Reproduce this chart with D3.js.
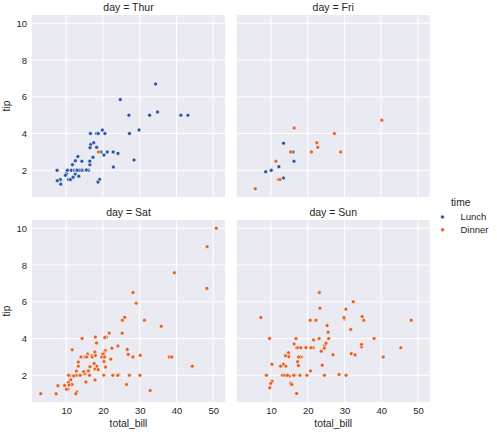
<!DOCTYPE html>
<html>
<head>
<meta charset="utf-8">
<script src="https://cdn.jsdelivr.net/npm/d3@7"></script>
<style>
  body { margin: 0; background: #fff; }
  text { font-family: Arial, "Liberation Sans", sans-serif; fill: #262626; }
</style>
</head>
<body>
<div id="chart"></div>
<script>
// facet layout: day panels in a 2x2 grid, hue = time
const days = ["Thur", "Fri", "Sat", "Sun"];
const times = ["Lunch", "Dinner"];
const xTicks = [10, 20, 30, 40, 50];
const yTicks = [2, 4, 6, 8, 10];

// [total_bill, tip]
const thurLunch = [
  [27.2,4.0],[22.76,3.0],[17.29,2.71],[19.44,3.0],[16.66,3.4],[10.07,1.83],[32.68,5.0],[15.98,2.03],
  [34.83,5.17],[13.03,2.0],[18.28,4.0],[24.71,5.85],[21.16,3.0],[10.65,1.5],[12.43,1.8],[24.08,2.92],
  [11.69,2.31],[13.42,1.68],[14.26,2.5],[15.95,2.0],[12.48,2.52],[29.8,4.2],[8.52,1.48],[14.52,2.0],
  [11.38,2.0],[22.82,2.18],[19.08,1.5],[20.27,2.83],[11.17,1.5],[12.26,2.0],[18.26,3.25],[8.51,1.25],
  [10.33,2.0],[14.15,2.0],[16.0,2.0],[13.16,2.75],[17.47,3.5],[34.3,6.7],[41.19,5.0],[27.05,5.0],
  [16.43,2.3],[8.35,1.5],[18.64,1.36],[11.87,1.63],[9.78,1.73],[7.51,2.0],[19.81,4.19],[28.44,2.56],
  [15.48,2.02],[16.58,4.0],[7.56,1.44],[10.34,2.0],[43.11,5.0],[13.0,2.0],[13.51,2.0],[18.71,4.0],
  [12.74,2.01],[13.0,2.0],[16.4,2.5],[20.53,4.0],[16.47,3.23]
];
const thurDinner = [[18.78,3.0]];

const friLunch = [
  [12.16,2.2],[13.42,3.48],[8.58,1.92],[15.98,3.0],[13.42,1.58],[16.27,2.5],[10.09,2.0]
];
const friDinner = [
  [28.97,3.0],[22.49,3.5],[5.75,1.0],[16.32,4.3],[22.75,3.25],[40.17,4.73],[27.28,4.0],[12.03,1.5],
  [21.01,3.0],[12.46,1.5],[11.35,2.5],[15.38,3.0]
];

const satLunch = [];
const satDinner = [
  [20.65,3.35],[17.92,4.08],[20.29,2.75],[15.77,2.23],[39.42,7.58],[19.82,3.18],[17.81,2.34],[13.37,2.0],
  [12.69,2.0],[21.7,4.3],[19.65,3.0],[9.55,1.45],[18.35,2.5],[15.06,3.0],[20.69,2.45],[17.78,3.27],
  [24.06,3.6],[16.31,2.0],[16.93,3.07],[18.69,2.31],[31.27,5.0],[16.04,2.24],[38.01,3.0],[26.41,1.5],
  [11.24,1.76],[48.27,6.73],[20.29,3.21],[13.81,2.0],[11.02,1.98],[18.29,3.76],[17.59,2.64],[20.08,3.15],
  [16.45,2.47],[3.07,1.0],[20.23,2.01],[15.01,2.09],[12.02,1.97],[17.07,3.0],[26.86,3.14],[25.28,5.0],
  [14.73,2.2],[10.51,1.25],[17.92,3.08],[44.3,2.5],[22.42,3.48],[20.92,4.08],[15.36,1.64],[20.49,4.06],
  [25.21,4.29],[18.24,3.76],[14.31,4.0],[14.0,3.0],[7.25,1.0],[10.59,1.61],[10.63,2.0],[50.81,10.0],
  [15.81,3.16],[26.59,3.41],[38.73,3.0],[24.27,2.03],[12.76,2.23],[30.06,2.0],[25.89,5.16],[48.33,9.0],
  [13.27,2.5],[28.17,6.5],[12.9,1.1],[28.15,3.0],[11.59,1.5],[7.74,1.44],[30.14,3.09],[20.45,3.0],
  [13.28,2.72],[22.12,2.88],[24.01,2.0],[15.69,3.0],[11.61,3.39],[10.77,1.47],[15.53,3.0],[10.07,1.25],
  [12.6,1.0],[32.83,1.17],[35.83,4.67],[29.03,5.92],[27.18,2.0],[22.67,2.0],[17.82,1.75]
];

const sunLunch = [];
const sunDinner = [
  [16.99,1.01],[10.34,1.66],[21.01,3.5],[23.68,3.31],[24.59,3.61],[25.29,4.71],[8.77,2.0],[26.88,3.12],
  [15.04,1.96],[14.78,3.23],[10.27,1.71],[35.26,5.0],[15.42,1.57],[18.43,3.0],[14.83,3.02],[21.58,3.92],
  [10.33,1.67],[16.29,3.71],[16.97,3.5],[17.46,2.54],[13.94,3.06],[9.68,1.32],[30.4,5.6],[18.29,3.0],
  [22.23,5.0],[32.4,6.0],[28.55,2.05],[18.04,3.0],[12.54,2.5],[10.29,2.6],[34.81,5.2],[9.94,1.56],
  [25.56,4.34],[19.49,3.51],[38.07,4.0],[23.95,2.55],[25.71,4.0],[17.31,3.5],[29.93,5.07],[14.07,2.5],
  [13.13,2.0],[17.26,2.74],[24.55,2.0],[19.77,2.0],[29.85,5.14],[48.17,5.0],[25.0,3.75],[13.39,2.61],
  [16.49,2.0],[21.5,3.5],[12.66,2.5],[16.21,2.0],[13.81,2.0],[17.51,3.0],[24.52,3.48],[20.76,2.24],
  [31.71,4.5],[7.25,5.15],[31.85,3.18],[16.82,4.0],[32.9,3.11],[17.89,2.0],[14.48,2.0],[9.6,4.0],
  [34.63,3.55],[34.65,3.68],[23.33,5.65],[45.35,3.5],[23.17,6.5],[40.55,3.0],[20.69,5.0],[20.9,3.5],
  [30.46,2.0],[18.15,3.5],[23.1,4.0],[15.69,1.5]
];

const byDay = {
  Thur: { Lunch: thurLunch, Dinner: thurDinner },
  Fri: { Lunch: friLunch, Dinner: friDinner },
  Sat: { Lunch: satLunch, Dinner: satDinner },
  Sun: { Lunch: sunLunch, Dinner: sunDinner }
};

const width = 497, height = 432;
const panel = { w: 193, h: 182 };
const colX = [32, 236.7];
const rowY = [15, 220];
const dotR = 2.0;
const color = d3.scaleOrdinal().domain(times).range(["#2a56a6", "#e4632a"]);

// shared axes; 5% padding like matplotlib
const all = days.flatMap(d => times.flatMap(t => byDay[d][t]));
const xExt = d3.extent(all, d => d[0]);
const yExt = d3.extent(all, d => d[1]);
const xPad = (xExt[1] - xExt[0]) * 0.05, yPad = (yExt[1] - yExt[0]) * 0.05;
const x = d3.scaleLinear().domain([xExt[0] - xPad, xExt[1] + xPad]).range([0, panel.w]);
const y = d3.scaleLinear().domain([yExt[0] - yPad, yExt[1] + yPad]).range([panel.h, 0]);

const svg = d3.select("#chart").append("svg")
  .attr("width", width).attr("height", height);

days.forEach((day, i) => {
  const col = i % 2, row = Math.floor(i / 2);
  const g = svg.append("g").attr("transform", `translate(${colX[col]},${rowY[row]})`);

  g.append("rect").attr("width", panel.w).attr("height", panel.h).attr("fill", "#eaeaf2");

  // grid
  g.append("g").selectAll("line").data(xTicks).join("line")
    .attr("x1", d => x(d)).attr("x2", d => x(d))
    .attr("y1", 0).attr("y2", panel.h)
    .attr("stroke", "#fff").attr("stroke-width", 1);
  g.append("g").selectAll("line").data(yTicks).join("line")
    .attr("y1", d => y(d)).attr("y2", d => y(d))
    .attr("x1", 0).attr("x2", panel.w)
    .attr("stroke", "#fff").attr("stroke-width", 1);

  // points, lunch then dinner
  times.forEach(t => {
    g.append("g").selectAll("circle").data(byDay[day][t]).join("circle")
      .attr("cx", d => x(d[0])).attr("cy", d => y(d[1]))
      .attr("r", dotR)
      .attr("fill", color(t))
      .attr("stroke", "#fff").attr("stroke-width", 0.6);
  });

  g.append("text")
    .attr("x", panel.w / 2).attr("y", -4)
    .attr("text-anchor", "middle")
    .style("font-size", "10.5px")
    .text(`day = ${day}`);

  if (col === 0) {
    const ya = d3.axisLeft(y).tickValues(yTicks).tickSize(0).tickPadding(5);
    g.append("g").call(ya).call(a => a.select(".domain").remove())
      .selectAll("text").style("font-size", "9.5px").attr("fill", "#262626")
      .style("font-family", "Arial, 'Liberation Sans', sans-serif");
    g.append("text")
      .attr("transform", `translate(-22,${panel.h / 2}) rotate(-90)`)
      .attr("text-anchor", "middle")
      .style("font-size", "10.3px")
      .text("tip");
  }
  if (row === 1) {
    const xa = d3.axisBottom(x).tickValues(xTicks).tickSize(0).tickPadding(5);
    g.append("g").attr("transform", `translate(0,${panel.h})`)
      .call(xa).call(a => a.select(".domain").remove())
      .selectAll("text").style("font-size", "9.5px").attr("fill", "#262626")
      .style("font-family", "Arial, 'Liberation Sans', sans-serif");
    g.append("text")
      .attr("x", panel.w / 2).attr("y", panel.h + 25)
      .attr("text-anchor", "middle")
      .style("font-size", "10.3px")
      .text("total_bill");
  }
});

// legend
const leg = svg.append("g").attr("transform", "translate(442,0)");
leg.append("text").attr("x", 9).attr("y", 205.5)
  .style("font-size", "10.3px").text("time");
times.forEach((t, i) => {
  const cy = 217 + i * 12.7;
  leg.append("circle").attr("cx", 0.5).attr("cy", cy).attr("r", dotR)
    .attr("fill", color(t)).attr("stroke", "#fff").attr("stroke-width", 0.6);
  leg.append("text").attr("x", 18.5).attr("y", cy + 3.4)
    .style("font-size", "9.5px").text(t);
});
</script>
</body>
</html>
